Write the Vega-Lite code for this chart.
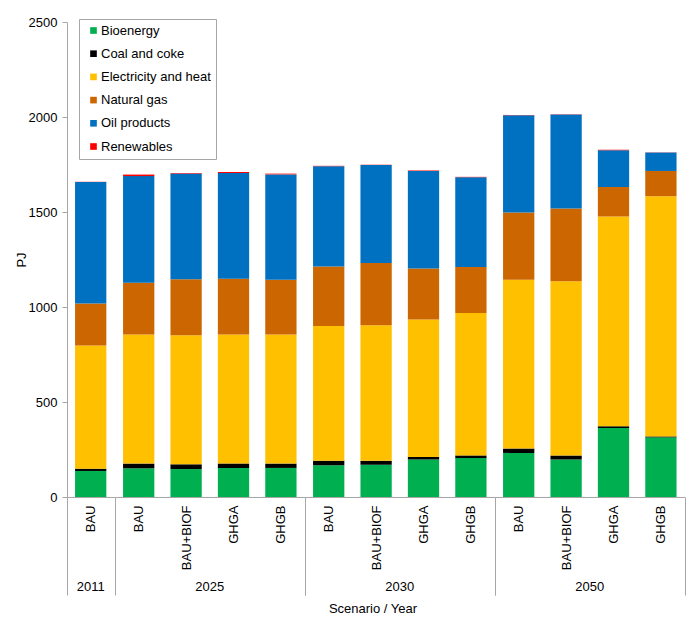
{
  "$schema": "https://vega.github.io/schema/vega-lite/v6.json",
  "padding": {"left": 15, "top": 16, "right": 5, "bottom": 5},
  "background": "white",
  "bounds": "flush",
  "data": {
    "values": [
      {"year": "2011", "scenario": "BAU", "fuel": "Bioenergy", "value": 137},
      {"year": "2011", "scenario": "BAU", "fuel": "Coal and coke", "value": 12},
      {"year": "2011", "scenario": "BAU", "fuel": "Electricity and heat", "value": 649},
      {"year": "2011", "scenario": "BAU", "fuel": "Natural gas", "value": 220},
      {"year": "2011", "scenario": "BAU", "fuel": "Oil products", "value": 640},
      {"year": "2011", "scenario": "BAU", "fuel": "Renewables", "value": 1},

      {"year": "2025", "scenario": "BAU", "fuel": "Bioenergy", "value": 151},
      {"year": "2025", "scenario": "BAU", "fuel": "Coal and coke", "value": 25},
      {"year": "2025", "scenario": "BAU", "fuel": "Electricity and heat", "value": 679},
      {"year": "2025", "scenario": "BAU", "fuel": "Natural gas", "value": 272},
      {"year": "2025", "scenario": "BAU", "fuel": "Oil products", "value": 562},
      {"year": "2025", "scenario": "BAU", "fuel": "Renewables", "value": 8},

      {"year": "2025", "scenario": "BAU+BIOF", "fuel": "Bioenergy", "value": 147},
      {"year": "2025", "scenario": "BAU+BIOF", "fuel": "Coal and coke", "value": 25},
      {"year": "2025", "scenario": "BAU+BIOF", "fuel": "Electricity and heat", "value": 679},
      {"year": "2025", "scenario": "BAU+BIOF", "fuel": "Natural gas", "value": 295},
      {"year": "2025", "scenario": "BAU+BIOF", "fuel": "Oil products", "value": 556},
      {"year": "2025", "scenario": "BAU+BIOF", "fuel": "Renewables", "value": 3},

      {"year": "2025", "scenario": "GHGA", "fuel": "Bioenergy", "value": 153},
      {"year": "2025", "scenario": "GHGA", "fuel": "Coal and coke", "value": 23},
      {"year": "2025", "scenario": "GHGA", "fuel": "Electricity and heat", "value": 679},
      {"year": "2025", "scenario": "GHGA", "fuel": "Natural gas", "value": 294},
      {"year": "2025", "scenario": "GHGA", "fuel": "Oil products", "value": 556},
      {"year": "2025", "scenario": "GHGA", "fuel": "Renewables", "value": 6},

      {"year": "2025", "scenario": "GHGB", "fuel": "Bioenergy", "value": 153},
      {"year": "2025", "scenario": "GHGB", "fuel": "Coal and coke", "value": 23},
      {"year": "2025", "scenario": "GHGB", "fuel": "Electricity and heat", "value": 679},
      {"year": "2025", "scenario": "GHGB", "fuel": "Natural gas", "value": 289},
      {"year": "2025", "scenario": "GHGB", "fuel": "Oil products", "value": 554},
      {"year": "2025", "scenario": "GHGB", "fuel": "Renewables", "value": 4},

      {"year": "2030", "scenario": "BAU", "fuel": "Bioenergy", "value": 167},
      {"year": "2030", "scenario": "BAU", "fuel": "Coal and coke", "value": 24},
      {"year": "2030", "scenario": "BAU", "fuel": "Electricity and heat", "value": 709},
      {"year": "2030", "scenario": "BAU", "fuel": "Natural gas", "value": 313},
      {"year": "2030", "scenario": "BAU", "fuel": "Oil products", "value": 528},
      {"year": "2030", "scenario": "BAU", "fuel": "Renewables", "value": 2},

      {"year": "2030", "scenario": "BAU+BIOF", "fuel": "Bioenergy", "value": 170},
      {"year": "2030", "scenario": "BAU+BIOF", "fuel": "Coal and coke", "value": 21},
      {"year": "2030", "scenario": "BAU+BIOF", "fuel": "Electricity and heat", "value": 713},
      {"year": "2030", "scenario": "BAU+BIOF", "fuel": "Natural gas", "value": 328},
      {"year": "2030", "scenario": "BAU+BIOF", "fuel": "Oil products", "value": 515},
      {"year": "2030", "scenario": "BAU+BIOF", "fuel": "Renewables", "value": 2},

      {"year": "2030", "scenario": "GHGA", "fuel": "Bioenergy", "value": 197},
      {"year": "2030", "scenario": "GHGA", "fuel": "Coal and coke", "value": 14},
      {"year": "2030", "scenario": "GHGA", "fuel": "Electricity and heat", "value": 723},
      {"year": "2030", "scenario": "GHGA", "fuel": "Natural gas", "value": 268},
      {"year": "2030", "scenario": "GHGA", "fuel": "Oil products", "value": 514},
      {"year": "2030", "scenario": "GHGA", "fuel": "Renewables", "value": 2},

      {"year": "2030", "scenario": "GHGB", "fuel": "Bioenergy", "value": 205},
      {"year": "2030", "scenario": "GHGB", "fuel": "Coal and coke", "value": 14},
      {"year": "2030", "scenario": "GHGB", "fuel": "Electricity and heat", "value": 749},
      {"year": "2030", "scenario": "GHGB", "fuel": "Natural gas", "value": 243},
      {"year": "2030", "scenario": "GHGB", "fuel": "Oil products", "value": 472},
      {"year": "2030", "scenario": "GHGB", "fuel": "Renewables", "value": 2},

      {"year": "2050", "scenario": "BAU", "fuel": "Bioenergy", "value": 232},
      {"year": "2050", "scenario": "BAU", "fuel": "Coal and coke", "value": 23},
      {"year": "2050", "scenario": "BAU", "fuel": "Electricity and heat", "value": 889},
      {"year": "2050", "scenario": "BAU", "fuel": "Natural gas", "value": 353},
      {"year": "2050", "scenario": "BAU", "fuel": "Oil products", "value": 512},
      {"year": "2050", "scenario": "BAU", "fuel": "Renewables", "value": 2},

      {"year": "2050", "scenario": "BAU+BIOF", "fuel": "Bioenergy", "value": 197},
      {"year": "2050", "scenario": "BAU+BIOF", "fuel": "Coal and coke", "value": 22},
      {"year": "2050", "scenario": "BAU+BIOF", "fuel": "Electricity and heat", "value": 916},
      {"year": "2050", "scenario": "BAU+BIOF", "fuel": "Natural gas", "value": 383},
      {"year": "2050", "scenario": "BAU+BIOF", "fuel": "Oil products", "value": 495},
      {"year": "2050", "scenario": "BAU+BIOF", "fuel": "Renewables", "value": 1},

      {"year": "2050", "scenario": "GHGA", "fuel": "Bioenergy", "value": 363},
      {"year": "2050", "scenario": "GHGA", "fuel": "Coal and coke", "value": 9},
      {"year": "2050", "scenario": "GHGA", "fuel": "Electricity and heat", "value": 1104},
      {"year": "2050", "scenario": "GHGA", "fuel": "Natural gas", "value": 156},
      {"year": "2050", "scenario": "GHGA", "fuel": "Oil products", "value": 193},
      {"year": "2050", "scenario": "GHGA", "fuel": "Renewables", "value": 2},

      {"year": "2050", "scenario": "GHGB", "fuel": "Bioenergy", "value": 314},
      {"year": "2050", "scenario": "GHGB", "fuel": "Coal and coke", "value": 5},
      {"year": "2050", "scenario": "GHGB", "fuel": "Electricity and heat", "value": 1264},
      {"year": "2050", "scenario": "GHGB", "fuel": "Natural gas", "value": 133},
      {"year": "2050", "scenario": "GHGB", "fuel": "Oil products", "value": 97},
      {"year": "2050", "scenario": "GHGB", "fuel": "Renewables", "value": 1}
    ]
  },
  "facet": {
    "column": {
      "field": "year",
      "type": "ordinal",
      "header": {
        "labelOrient": "bottom",
        "titleOrient": "bottom",
        "title": "Scenario / Year",
        "labelFont": "Liberation Sans",
        "labelFontSize": 13,
        "labelColor": "#000000",
        "labelPadding": 84,
        "titleFont": "Liberation Sans",
        "titleFontSize": 13,
        "titleFontWeight": "normal",
        "titleColor": "#000000",
        "titlePadding": -1
      }
    }
  },
  "spacing": 0,
  "resolve": {"scale": {"x": "independent"}},
  "spec": {
    "width": {"step": 47.4},
    "height": 475,
    "mark": {"type": "bar", "width": {"band": 0.66}},
    "encoding": {
      "x": {
        "field": "scenario",
        "type": "nominal",
        "scale": {"paddingInner": 0, "paddingOuter": 0},
        "axis": {
          "title": null,
          "labelAngle": -90,
          "labelFont": "Liberation Sans",
          "labelFontSize": 13,
          "labelColor": "#000000",
          "domainColor": "#a6a6a6",
          "tickColor": "#a6a6a6",
          "tickBand": "extent",
          "tickSize": 98,
          "tickOpacity": {"condition": {"test": "datum.extra || datum.index < 0 || datum.index >= 1", "value": 1}, "value": 0},
          "labelPadding": -90
        }
      },
      "y": {
        "field": "value",
        "type": "quantitative",
        "aggregate": "sum",
        "scale": {"domain": [0, 2500]},
        "axis": {
          "title": "PJ",
          "titleFont": "Liberation Sans",
          "titleFontSize": 13,
          "titleFontWeight": "normal",
          "titleColor": "#000000",
          "titlePadding": 0,
          "values": [0, 500, 1000, 1500, 2000, 2500],
          "format": "d",
          "grid": false,
          "labelFont": "Liberation Sans",
          "labelFontSize": 13,
          "labelColor": "#000000",
          "labelPadding": 5,
          "domainColor": "#a6a6a6",
          "tickColor": "#a6a6a6",
          "tickSize": 5
        }
      },
      "color": {
        "field": "fuel",
        "type": "nominal",
        "scale": {
          "domain": ["Bioenergy", "Coal and coke", "Electricity and heat", "Natural gas", "Oil products", "Renewables"],
          "range": ["#00b050", "#000000", "#ffc000", "#cc6600", "#0070c0", "#ff0000"]
        },
        "legend": {
          "title": null,
          "orient": "none",
          "legendX": 12,
          "legendY": -3,
          "symbolType": "square",
          "symbolSize": 44,
          "symbolOffset": 3,
          "labelOffset": 1,
          "labelFont": "Liberation Sans",
          "labelFontSize": 13,
          "labelColor": "#000000",
          "rowPadding": 9.2,
          "padding": 5,
          "strokeColor": "#a6a6a6",
          "fillColor": "white"
        }
      },
      "order": {"field": "fuel", "type": "ordinal", "sort": "ascending"}
    }
  },
  "config": {
    "view": {"stroke": null}
  }
}
